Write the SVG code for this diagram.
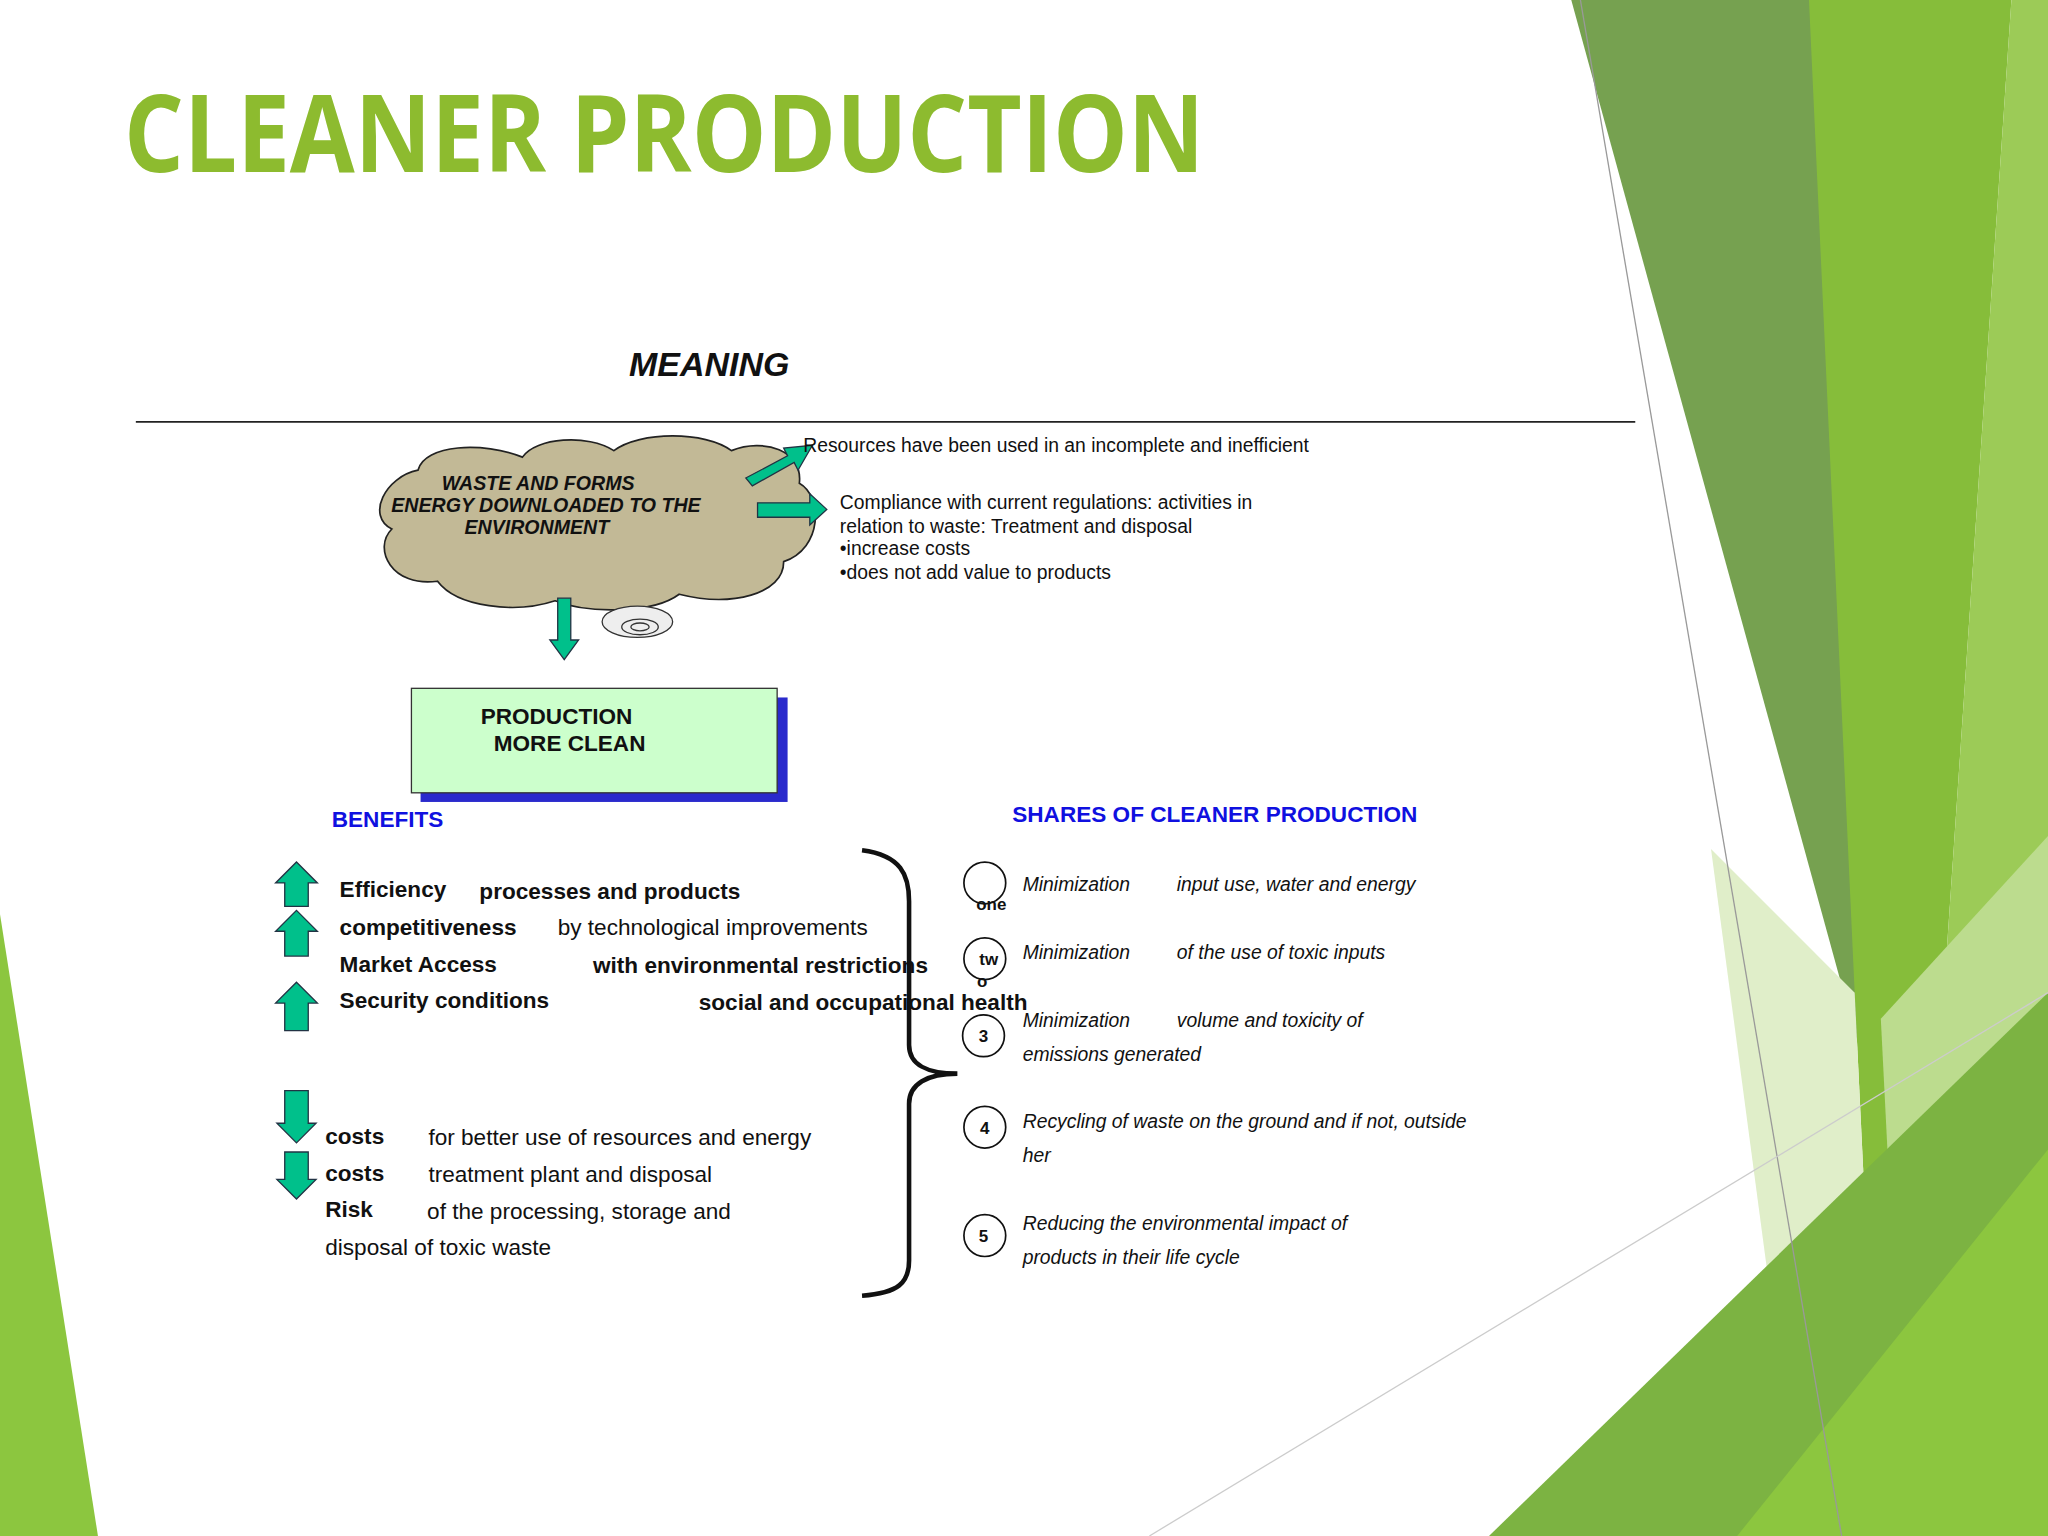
<svg xmlns="http://www.w3.org/2000/svg" width="2048" height="1536" viewBox="0 0 2048 1536">
<defs>
<style>
.t{font-family:"Liberation Sans",Arial,sans-serif;fill:#111}
.n{font-size:14.8px}
.b{font-size:17.3px;font-weight:bold}
.r{font-size:17.3px}
.i{font-size:14.8px;font-style:italic}
.arr{fill:#00c08b;stroke:#234;stroke-width:1}
.c{fill:#fff;stroke:#111;stroke-width:1.3}
.cn{font-size:13px;font-weight:bold;text-anchor:middle}
</style>
</defs>
<rect width="2048" height="1536" fill="#fff"/>
<g transform="scale(1.30612)">
<g id="background">
<polygon points="1203,0 1395,0 1450,900" fill="#76a150"/>
<polygon points="1385,0 1540,0 1460,1176 1440,1176 1420,760" fill="#86bd3a"/>
<polygon points="1540,0 1568,0 1568,1176 1460,1176" fill="#9ccb57"/>
<polygon points="1310,650 1420,760 1440,1176 1380,1176" fill="#e0eec9"/>
<polygon points="1440,780 1568,640 1568,1176 1460,1176" fill="#bcdc8e"/>
<polygon points="1140,1176 1568,760 1568,1176" fill="#7cb342"/>
<polygon points="1330,1176 1568,880 1568,1176" fill="#8cc63f"/>
<polygon points="0,700 75,1176 0,1176" fill="#8cc63f"/>
<line x1="1210" y1="0" x2="1410" y2="1176" stroke="#999" stroke-width="1"/>
<line x1="880" y1="1176" x2="1568" y2="760" stroke="#ccc" stroke-width="1"/>
</g>
<text x="95" y="132" style="font-family:'Open Sans','Liberation Sans',sans-serif;font-weight:bold;font-size:82px;fill:#8dbb2f" textLength="827" lengthAdjust="spacingAndGlyphs">CLEANER PRODUCTION</text>
<text x="543" y="288" text-anchor="middle" class="t" style="font-size:26px;font-weight:900;font-style:italic">MEANING</text>
<line x1="104" y1="323" x2="1252" y2="323" stroke="#222" stroke-width="1.2"/>
<g id="cloud">
<path d="M320,360 C325,340 370,338 400,350 C410,335 450,332 470,345 C490,330 540,330 560,345 C585,335 615,345 612,370 C630,380 630,420 600,430 C600,455 560,465 520,455 C500,470 450,470 425,460 C395,470 350,465 335,445 C300,450 285,420 300,405 C280,395 295,365 320,360 Z" fill="#c2b996" stroke="#222" stroke-width="1.3"/>
<ellipse cx="488" cy="476" rx="27" ry="12" fill="#eee" stroke="#333"/>
<ellipse cx="490" cy="480" rx="14" ry="6" fill="#eee" stroke="#333"/>
<ellipse cx="490" cy="480" rx="7" ry="3" fill="#eee" stroke="#333"/>
<g class="t" style="font-size:15px;font-weight:bold;font-style:italic" text-anchor="middle">
<text x="412" y="375">WASTE AND FORMS</text>
<text x="418" y="392">ENERGY DOWNLOADED TO THE</text>
<text x="411" y="409">ENVIRONMENT</text>
</g>
</g>
<g id="connectors">
<polygon class="arr" points="571,366 603,349 600,343 622,341 611,360 608,354 576,372"/>
<polygon class="arr" points="580,385 620,385 620,378 633,390 620,402 620,396 580,396"/>
<polygon class="arr" points="427,458 437,458 437,490 443,490 432,505 421,490 427,490"/>
<path d="M660,651 C690,655 696,670 696,690 L696,800 C696,815 710,822 733,822 C710,822 696,830 696,845 L696,965 C696,982 688,990 660,992" fill="none" stroke="#111" stroke-width="3.5"/>
</g>
<g id="box">
<rect x="322" y="534" width="281" height="80" fill="#2a2acc"/>
<rect x="315" y="527" width="280" height="80" fill="#ccffcc" stroke="#333"/>
<text x="368" y="554" class="t b">PRODUCTION</text>
<text x="378" y="575" class="t b">MORE CLEAN</text>
</g>
<text x="254" y="633" class="t b" style="fill:#1010e0">BENEFITS</text>
<text x="775" y="629" class="t b" style="fill:#1010e0">SHARES OF CLEANER PRODUCTION</text>
<g id="benefits">
<polygon class="arr" points="227,660 243,676 236,676 236,694 218,694 218,676 211,676"/>
<polygon class="arr" points="227,697 243,713 236,713 236,732 218,732 218,713 211,713"/>
<polygon class="arr" points="227,752 243,768 236,768 236,789 218,789 218,768 211,768"/>
<polygon class="arr" points="218,835 236,835 236,860 242,860 227,875 212,860 218,860"/>
<polygon class="arr" points="218,882 236,882 236,903 242,903 227,918 212,903 218,903"/>
<text x="260" y="687" class="t b">Efficiency</text>
<text x="367" y="688" class="t b">processes and products</text>
<text x="260" y="716" class="t b">competitiveness</text>
<text x="427" y="716" class="t r">by technological improvements</text>
<text x="260" y="744" class="t b">Market Access</text>
<text x="454" y="745" class="t b">with environmental restrictions</text>
<text x="260" y="772" class="t b">Security conditions</text>
<text x="535" y="773" class="t b">social and occupational health</text>
<text x="249" y="876" class="t b">costs</text>
<text x="328" y="877" class="t r">for better use of resources and energy</text>
<text x="249" y="904" class="t b">costs</text>
<text x="328" y="905" class="t r">treatment plant and disposal</text>
<text x="249" y="932" class="t b">Risk</text>
<text x="327" y="933" class="t r">of the processing, storage and</text>
<text x="249" y="961" class="t r">disposal of toxic waste</text>
</g>
<g id="shares">
<circle class="c" cx="754" cy="676" r="16"/>
<circle class="c" cx="754" cy="734" r="16"/>
<circle class="c" cx="753" cy="793" r="16"/>
<circle class="c" cx="754" cy="863" r="16"/>
<circle class="c" cx="754" cy="946" r="16"/>
<text x="759" y="697" class="t cn">one</text>
<text x="757" y="739" class="t cn">tw</text>
<text x="752" y="756" class="t cn">o</text>
<text x="753" y="798" class="t cn">3</text>
<text x="754" y="868" class="t cn">4</text>
<text x="753" y="951" class="t cn">5</text>
<text x="783" y="682" class="t i">Minimization</text>
<text x="901" y="682" class="t i">input use, water and energy</text>
<text x="783" y="734" class="t i">Minimization</text>
<text x="901" y="734" class="t i">of the use of toxic inputs</text>
<text x="783" y="786" class="t i">Minimization</text>
<text x="901" y="786" class="t i">volume and toxicity of</text>
<text x="783" y="812" class="t i">emissions generated</text>
<text x="783" y="864" class="t i">Recycling of waste on the ground and if not, outside</text>
<text x="783" y="890" class="t i">her</text>
<text x="783" y="942" class="t i">Reducing the environmental impact of</text>
<text x="783" y="968" class="t i">products in their life cycle</text>
</g>
<g id="notes">
<text x="615" y="346" class="t n">Resources have been used in an incomplete and inefficient</text>
<text x="643" y="390" class="t n">Compliance with current regulations: activities in</text>
<text x="643" y="408" class="t n">relation to waste: Treatment and disposal</text>
<text x="643" y="425" class="t n">•increase costs</text>
<text x="643" y="443" class="t n">•does not add value to products</text>
</g>
</g>
</svg>
